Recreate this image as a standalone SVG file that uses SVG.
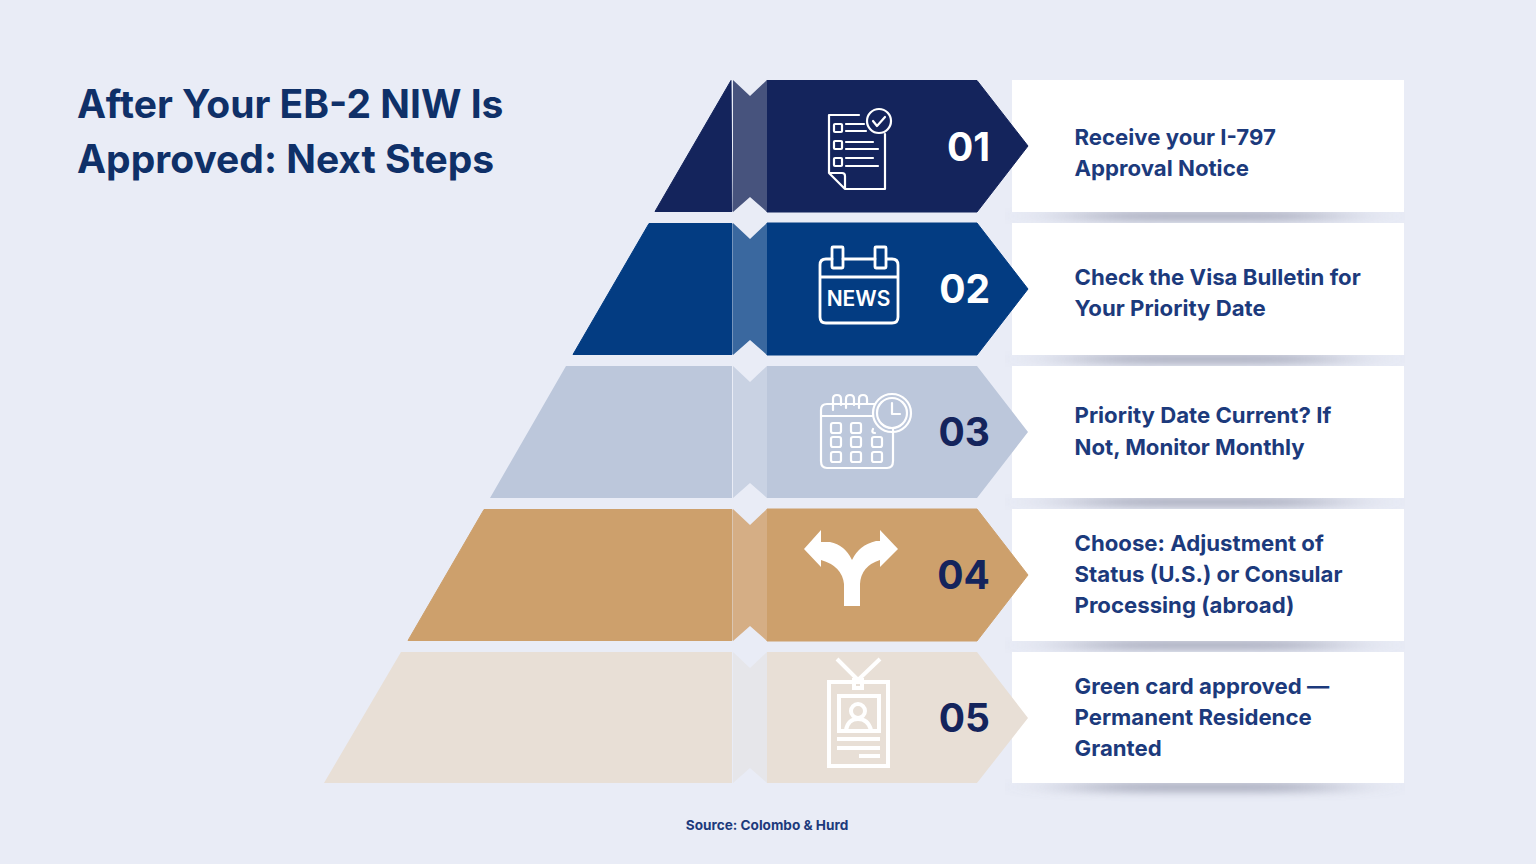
<svg xmlns="http://www.w3.org/2000/svg" width="1536" height="864" viewBox="0 0 1536 864">
<style>
text{font-family:Inter,"Liberation Sans",sans-serif}
.title{font-size:39px;font-weight:700;fill:#0f3068}
.lbl{font-size:22.2px;font-weight:700;fill:#1c3a7c}
.num{font-size:39px;font-weight:700;text-anchor:end}
.src{font-size:13.6px;font-weight:700;fill:#1c3a7c;text-anchor:middle}
.card{fill:#fff}
.shadow{fill:#9a9db0;opacity:.8;filter:url(#b)}
.i{fill:none;stroke:#fff;stroke-width:2.800;stroke-linejoin:round;stroke-linecap:round}
.thin{stroke-width:2.200}
.thick{stroke-width:4;stroke-linecap:butt;stroke-linejoin:miter}
.news{font-size:21px;font-weight:600;fill:#fff;text-anchor:middle}
</style>
<defs><filter id="b" x="-30%" y="-300%" width="160%" height="700%"><feGaussianBlur stdDeviation="40 4"/></filter></defs>
<rect width="1536" height="864" fill="#e9ecf6"/>
<text class="title" x="77" y="117.500">After Your EB-2 NIW Is</text>
<text class="title" x="77" y="172.500">Approved: Next Steps</text>
<g id="shadows">
<rect class="shadow" x="1080" y="211" width="250" height="10"/>
<rect class="shadow" x="1080" y="354" width="250" height="10"/>
<rect class="shadow" x="1080" y="497" width="250" height="10"/>
<rect class="shadow" x="1080" y="640" width="250" height="10"/>
<rect class="shadow" x="1080" y="782" width="250" height="10"/>
</g>
<g id="card-1"><rect class="card" x="1012" y="80" width="392" height="132"/>
<text class="lbl" x="1074.500" y="144.500">Receive your I-797</text><text class="lbl" x="1074.500" y="175.500">Approval Notice</text></g>
<g id="card-2"><rect class="card" x="1012" y="223" width="392" height="132"/>
<text class="lbl" x="1074.500" y="284.500">Check the Visa Bulletin for</text><text class="lbl" x="1074.500" y="315.500">Your Priority Date</text></g>
<g id="card-3"><rect class="card" x="1012" y="366" width="392" height="132"/>
<text class="lbl" x="1074.500" y="423">Priority Date Current? If</text><text class="lbl" x="1074.500" y="454.500">Not, Monitor Monthly</text></g>
<g id="card-4"><rect class="card" x="1012" y="509" width="392" height="132"/>
<text class="lbl" x="1074.500" y="550.500">Choose: Adjustment of</text><text class="lbl" x="1074.500" y="581.500">Status (U.S.) or Consular</text><text class="lbl" x="1074.500" y="612.500">Processing (abroad)</text></g>
<g id="card-5"><rect class="card" x="1012" y="652" width="392" height="131"/>
<text class="lbl" x="1074.500" y="693.500">Green card approved —</text><text class="lbl" x="1074.500" y="724.500">Permanent Residence</text><text class="lbl" x="1074.500" y="755.500">Granted</text></g>
<g id="node-1">
<path fill="#14245c" stroke="#14245c" stroke-linejoin="round" d="M731 80.500L732 211.500H655ZM767 80.500H977L1028 146L977 212H767Z"/>
<path fill="#47537d" d="M733 80L750 96L767 80V212L750 197L733 212Z"/>
<g class="i thin">
<path d="M859 115H829V173L845 189H885V134M829 173H842Q845 173 845 176V189M846 124H864M846 131H866M846 142H873M846 149H878M846 158H873M846 166H878"/>
<rect x="834" y="124" width="8" height="8" rx="1"/><rect x="834" y="141" width="8" height="8" rx="1"/><rect x="834" y="158" width="8" height="8" rx="1"/>
<circle cx="879" cy="121" r="12"/><path d="M873 121L877 126L885 117"/>
</g>
<text class="num" fill="#fff" x="990" y="160.500">01</text>
</g>
<g id="node-2">
<path fill="#033c82" stroke="#033c82" stroke-linejoin="round" d="M649 223.500H732V354.500H573ZM767 223H977L1028 289L977 355H767Z"/>
<path fill="#3a689f" d="M733 223L750 239L767 223V355L750 340L733 355Z"/>
<g class="i">
<path d="M832 259H826Q820 259 820 265V317Q820 323 826 323H892Q898 323 898 317V265Q898 259 892 259H887M843 259H875M820 277H898"/>
<rect x="832" y="247" width="11" height="21" rx="1"/><rect x="875" y="247" width="11" height="21" rx="1"/>
</g>
<text class="news" x="858.500" y="306">NEWS</text>
<text class="num" fill="#fff" x="990" y="302.500">02</text>
</g>
<g id="node-3">
<path fill="#bcc7db" d="M566 366H732V498H490ZM767 366H977L1028 432L977 498H767Z"/>
<path fill="#c9d2e3" d="M733 366L750 382L767 366V498L750 483L733 498Z"/>
<g class="i thin">
<path d="M875 404H827Q821 404 821 410V461Q821 468 827 468H887Q893 468 893 461V429M821 416H873M833 410V399Q833 395 837 395Q841 395 841 399V405M846 408V399Q846 395 850 395Q854 395 854 399V405M859 408V399Q859 395 863 395Q867 395 867 399V404"/>
<rect x="831" y="423" width="10" height="10" rx="2"/><rect x="851" y="423" width="10" height="10" rx="2"/><path d="M873 429Q871 433 875 433"/>
<rect x="831" y="437" width="10" height="10" rx="2"/><rect x="851" y="437" width="10" height="10" rx="2"/><rect x="872" y="437" width="10" height="10" rx="2"/>
<rect x="831" y="452" width="10" height="10" rx="2"/><rect x="851" y="452" width="10" height="10" rx="2"/><rect x="872" y="452" width="10" height="10" rx="2"/>
<circle cx="892" cy="413" r="19"/><circle cx="892" cy="413" r="15"/><path d="M892 403V414H900"/>
</g>
<text class="num" fill="#14245c" x="990" y="445.500">03</text>
</g>
<g id="node-4">
<path fill="#cda06c" stroke="#cda06c" stroke-linejoin="round" d="M484 509.500H732V640.500H408ZM767 509H977L1028 575L977 641H767Z"/>
<path fill="#d5ae85" d="M733 509L750 525L767 509V641L750 626L733 641Z"/>
<path fill="#fff" d="M844 606V584Q842 566 821 560V567L804 549L821 530V542H830Q845 545 852 560Q859 545 876 541H880V530L898 549L880 567V560Q861 566 860 584V606Z"/>
<text class="num" fill="#14245c" x="990" y="588.500">04</text>
</g>
<g id="node-5">
<path fill="#e8dfd6" d="M401 652H732V783H324ZM767 652H977L1028 718L977 783H767Z"/>
<path fill="#e6e6ea" d="M733 652L750 668L767 652V783L750 768L733 783Z"/>
<g class="i thick">
<path d="M837 659L858 680L880 659"/><rect x="854" y="680" width="8" height="8"/>
<rect x="829" y="682" width="59" height="84"/><rect x="839" y="696" width="40" height="35"/>
<circle cx="858" cy="711" r="7"/><path d="M846 730Q848 719 858 719Q868 719 871 730M837 739H880M837 748H880M859 756H880"/>
</g>
<text class="num" fill="#14245c" x="990" y="731.500">05</text>
</g>
<g id="connectors"/>
<text class="src" x="767" y="830">Source: Colombo &amp; Hurd</text>
</svg>
